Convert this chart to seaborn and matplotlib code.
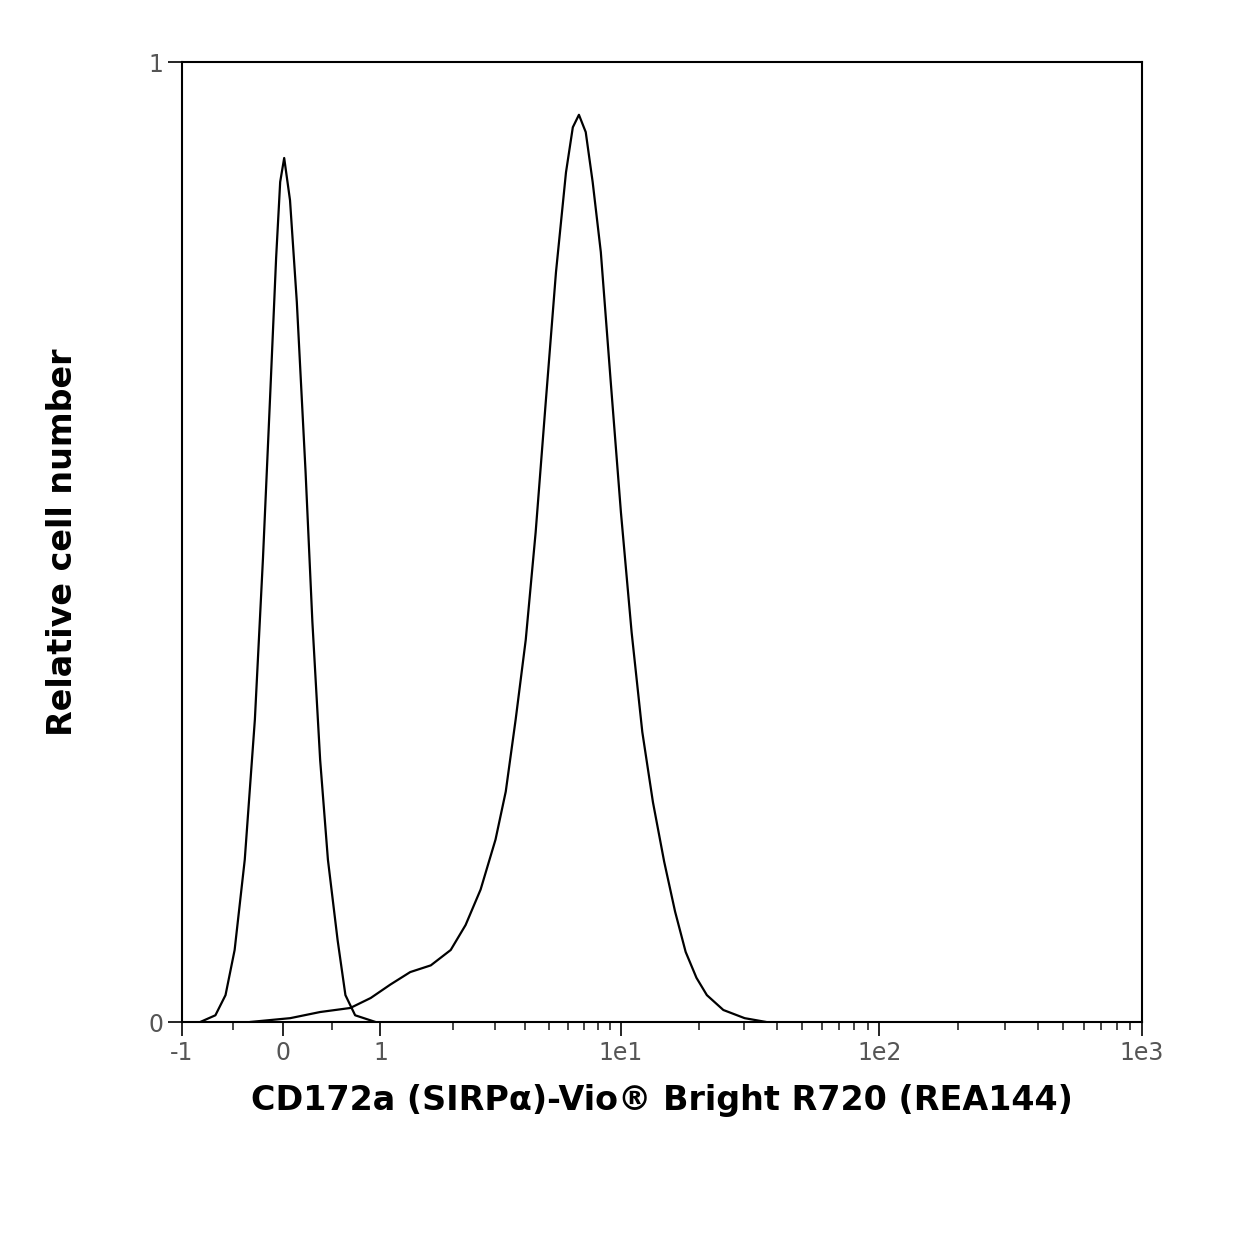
import numpy as np
import pandas as pd
import matplotlib
matplotlib.use("Agg")
import matplotlib.pyplot as plt
import seaborn as sns

iso_x = [-0.82,-0.67,-0.57,-0.48,-0.38,-0.28,-0.20,-0.13,-0.07,-0.03,0.01,0.07,0.14,0.23,0.30,0.38,0.46,0.56,0.64,0.74,0.95]
iso_y = [0,0.007,0.028,0.075,0.169,0.315,0.483,0.65,0.796,0.875,0.9,0.856,0.75,0.573,0.417,0.273,0.169,0.085,0.028,0.007,0]
st_x = [-0.33,0.072,0.38,0.69,0.90,1.10,1.33,1.62,1.96,2.26,2.61,3.01,3.32,3.65,4.02,4.42,4.87,5.37,5.91,6.31,6.69,7.14,7.63,8.25,9.07,10.0,11.0,12.1,13.3,14.7,16.2,17.8,19.6,21.5,24.9,30.1,36.5]
st_y = [0,0.004,0.0104,0.0146,0.025,0.039,0.052,0.059,0.075,0.101,0.138,0.190,0.24,0.315,0.398,0.51,0.646,0.781,0.885,0.932,0.945,0.927,0.875,0.802,0.667,0.531,0.406,0.302,0.229,0.167,0.115,0.073,0.046,0.028,0.0125,0.004,0]
xticks = [-1, 0, 1, 10, 100, 1000]
xtick_labels = ["-1", "0", "1", "1e1", "1e2", "1e3"]

anch_g = np.array([-1, 0, 1, 2, 3, 4], float)
anch_p = np.array([0, 101, 198, 438, 696, 958], float)

def g(v):
    v = np.asarray(v, float)
    a = np.abs(v)
    return np.where(a <= 1, v, np.sign(v) * (1 + np.log10(np.maximum(a, 1))))

def ginv(t):
    t = np.asarray(t, float)
    a = np.abs(t)
    return np.where(a <= 1, t, np.sign(t) * 10 ** (np.maximum(a, 1) - 1))

def fwd(v):
    return np.interp(g(v), anch_g, anch_p, left=-1e3, right=2e3)

def inv(p):
    return ginv(np.interp(p, anch_p, anch_g))

sns.set_theme(style="white")
plt.rcParams['font.family'] = ['DejaVu Sans']
fig = plt.figure(figsize=(12.5, 12.5), dpi=100)
ax = fig.add_axes([0.1456, 0.1824, 0.768, 0.768])
ax.set_xscale('function', functions=(fwd, inv))

df1 = pd.DataFrame({"x": iso_x, "y": iso_y})
df2 = pd.DataFrame({"x": st_x, "y": st_y})
sns.lineplot(data=df1, x="x", y="y", ax=ax, color="black", lw=1.6, sort=False)
sns.lineplot(data=df2, x="x", y="y", ax=ax, color="black", lw=1.6, sort=False)

ax.set_xlim(-1, 1000)
ax.set_ylim(0, 1)
ax.set_xticks(xticks)
ax.set_xticklabels(xtick_labels)
minor = [-0.5, 0.5] + [m * d for d in (1, 10, 100) for m in range(2, 10)]
ax.set_xticks(minor, minor=True)
ax.set_yticks([0, 1])
ax.set_yticklabels(["0", "1"])
ax.tick_params(axis='both', which='major', direction='out', length=10, width=1.2,
               colors='black', labelcolor='#555555', labelsize=17, bottom=True, left=True)
ax.tick_params(axis='x', which='minor', direction='out', length=6, width=1.2, bottom=True)
for s in ax.spines.values():
    s.set_color('black'); s.set_linewidth(1.5)
ax.set_xlabel("CD172a (SIRPα)-Vio® Bright R720 (REA144)", fontsize=24, fontweight='bold',
              labelpad=14, color='black')
ax.set_ylabel("Relative cell number", fontsize=24, fontweight='bold', labelpad=50, color='black')
fig.savefig("out.png", dpi=100)
